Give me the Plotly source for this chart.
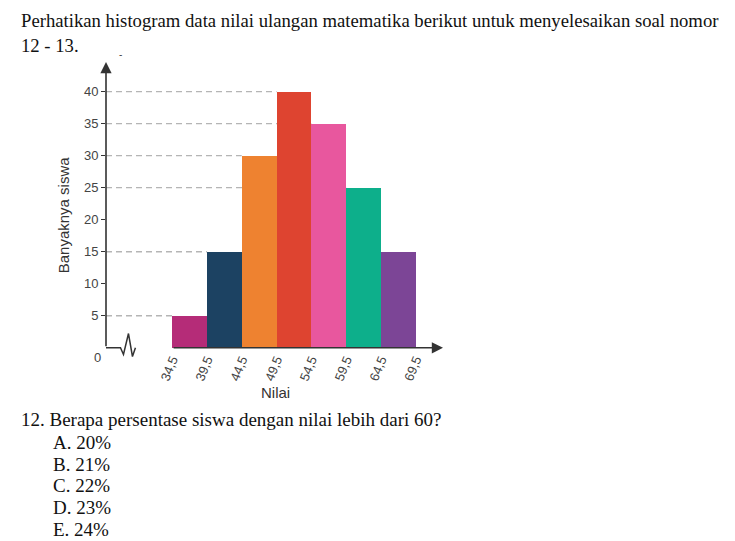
import plotly.graph_objects as go

# ---- data ----
edges = [34.5, 39.5, 44.5, 49.5, 54.5, 59.5, 64.5, 69.5]
edge_labels = ["34,5", "39,5", "44,5", "49,5", "54,5", "59,5", "64,5", "69,5"]
counts = [5, 15, 30, 40, 35, 25, 15]
bar_colors = ["#b52c78", "#1c4262", "#ee8230", "#de4430", "#e8579e", "#0daf8b", "#7c4596"]
y_ticks = [5, 10, 15, 20, 25, 30, 35, 40]
dashed_levels = [5, 15, 25, 30, 35, 40]

header1 = "Perhatikan histogram data nilai ulangan matematika berikut untuk menyelesaikan soal nomor"
header2 = "12 - 13."
question = "12. Berapa persentase siswa dengan nilai lebih dari 60?"
options = ["A. 20%", "B. 21%", "C. 22%", "D. 23%", "E. 24%"]

# ---- layout geometry (page pixels; page body has an 8px margin) ----
OFF = 8
W, H = 735 - OFF, 541 - OFF
L, R_px = 105.5, 443.0      # page x of plot left / right
T, B_px = 62.0, 367.5       # page y of plot top / bottom
X0, X1 = 25.0, 73.42
Y0, Y1 = -3.0, 44.63

def px(x):
    return (x - L) / (R_px - L)

def py(y):
    return (B_px - y) / (B_px - T)

centers = [(edges[i] + edges[i + 1]) / 2 for i in range(len(counts))]
widths = [edges[i + 1] - edges[i] for i in range(len(counts))]

fig = go.Figure()
fig.add_trace(go.Bar(
    x=centers, y=counts, width=widths,
    marker=dict(color=bar_colors, line=dict(width=0)),
    hoverinfo="skip", showlegend=False,
))

shapes = []
for lv in dashed_levels:
    idx = counts.index(lv)
    shapes.append(dict(type="line", xref="x", yref="y", x0=X0, x1=edges[idx], y0=lv, y1=lv,
                       line=dict(color="#b5b5b5", width=1.3, dash="6px,4px"), layer="below"))
shapes.append(dict(type="path", xref="x", yref="y",
                   path="M 25 0 L 27.08 0 L 27.51 -1.04 L 28.23 2.23 L 28.80 -1.36 L 29.23 0",
                   line=dict(color="#333333", width=1.5), layer="above"))

annotations = []
arrow_style = dict(showarrow=True, text="", arrowhead=2, arrowsize=1.4, arrowwidth=1.6,
                   arrowcolor="#333333", standoff=0, startstandoff=0, axref="x", ayref="y",
                   xref="x", yref="y")
annotations.append(dict(x=X0, y=Y1, ax=X0, ay=0, **arrow_style))
annotations.append(dict(x=X1, y=0, ax=edges[0], ay=0, **arrow_style))

sans = "Liberation Sans"
def txt(x, y, text, size, family=sans, color="#444", xanchor="center", angle=0):
    return dict(x=px(x), y=py(y), xref="paper", yref="paper", text=text, showarrow=False,
                xanchor=xanchor, yanchor="middle", textangle=angle,
                font=dict(family=family, size=size, color=color))

annotations.append(txt(97, 358, "0", 13))
annotations.append(txt(275, 393, "Nilai", 15, color="#333"))
annotations.append(txt(63, 215, "Banyaknya siswa", 15, color="#333", angle=-90))
annotations.append(txt(120, 54, "-", 10))

serif = "Liberation Serif"
annotations.append(txt(18, 20, header1, 18.7, family=serif, color="#111", xanchor="left"))
annotations.append(txt(18, 45, header2, 18.7, family=serif, color="#111", xanchor="left"))
annotations.append(txt(18, 420, question, 19, family=serif, color="#111", xanchor="left"))
for i, opt in enumerate(options):
    annotations.append(txt(50, 443 + i * 21.8, opt, 19, family=serif, color="#111", xanchor="left"))

fig.update_layout(
    width=W, height=H,
    margin=dict(l=L - OFF, r=W - (R_px - OFF), t=T - OFF, b=H - (B_px - OFF), pad=0),
    paper_bgcolor="white", plot_bgcolor="white",
    bargap=0,
    shapes=shapes, annotations=annotations,
    xaxis=dict(range=[X0, X1], tickvals=edges, ticktext=edge_labels, tickangle=-68,
               showgrid=False, zeroline=False, showline=False, ticks="",
               anchor="free", position=py(349),
               tickfont=dict(family=sans, size=13, color="#444")),
    yaxis=dict(range=[Y0, Y1], tickvals=y_ticks, showgrid=False, zeroline=False, showline=False,
               ticks="outside", ticklen=4, tickwidth=1.2, tickcolor="#333333",
               tickfont=dict(family=sans, size=13, color="#444")),
    showlegend=False,
)

fig.write_html("out.html")
